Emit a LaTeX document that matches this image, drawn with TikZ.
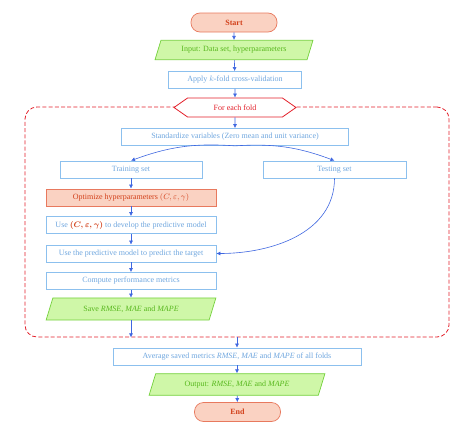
\documentclass[tikz,border=0pt]{standalone}
\usepackage{fontspec}
\setmainfont{Liberation Serif}
\usetikzlibrary{shapes.geometric,shapes.symbols,arrows.meta}
\definecolor{boxblue}{HTML}{8CC0EE}
\definecolor{txtblue}{HTML}{6FA6DE}
\definecolor{arrblue}{HTML}{3F67E0}
\definecolor{grnfill}{HTML}{CFF7A8}
\definecolor{grnline}{HTML}{74D13C}
\definecolor{grntxt}{HTML}{58B81E}
\definecolor{salfill}{HTML}{FAD2C2}
\definecolor{salline}{HTML}{E8795E}
\definecolor{saltxt}{HTML}{D2401A}
\definecolor{loopred}{HTML}{E3202A}
\tikzset{
  every node/.style={font=\fontsize{8}{9.6}\selectfont},
  terminal/.style={draw=salline,fill=salfill,text=saltxt,rounded corners=9pt,
    minimum width=86pt,minimum height=19pt,line width=0.7pt,font=\fontsize{8}{9.6}\selectfont\bfseries},
  io/.style={trapezium,trapezium left angle=73,trapezium right angle=107,draw=grnline,
    fill=grnfill,text=grntxt,minimum height=17pt,line width=0.7pt,inner xsep=0pt},
  proc/.style={draw=boxblue,text=txtblue,minimum height=17pt,line width=0.7pt},
  opt/.style={draw=salline,fill=salfill,text=saltxt,minimum height=17pt,line width=0.7pt},
  fold/.style={signal,signal to=west and east,signal pointer angle=70,draw=loopred,
    fill=white,text=loopred,minimum width=122pt,minimum height=19pt,line width=0.8pt},
  loopbox/.style={draw=loopred,dash pattern=on 4pt off 2.2pt,rounded corners=12pt,line width=0.8pt},
  flow/.style={-{Latex[length=4pt,width=4pt]},color=arrblue,line width=0.6pt}
}
\begin{document}
\begin{tikzpicture}[x=1pt,y=1pt]
    \useasboundingbox (0,0) rectangle (474,-431);
    \node[loopbox,minimum width=424pt,minimum height=230pt] (loop) at (237,-222) {};
    \node[terminal] (start) at (234,-22.5) {Start};
    \node[io,minimum width=158pt] (input) at (234,-50) {Input: Data set, hyperparameters};
    \node[proc,minimum width=133pt] (apply) at (235,-80) {Apply $k$-fold cross-validation};
    \node[fold] (each) at (235,-107.5) {For each fold};
    \node[proc,minimum width=227pt] (stand) at (235,-137) {Standardize variables (Zero mean and unit variance)};
    \node[proc,minimum width=142pt] (train) at (131,-169.5) {Training set};
    \node[proc,minimum width=143pt] (test) at (334.5,-169.5) {Testing set};
    \node[opt,minimum width=170pt] (optim) at (131,-197.5) {Optimize hyperparameters $(C,\varepsilon,\gamma)$};
    \node[proc,minimum width=170pt] (develop) at (131,-225) {Use {\color{saltxt}\boldmath$(C,\varepsilon,\gamma)$} to develop the predictive model};
    \node[proc,minimum width=170pt] (predict) at (131,-253.5) {Use the predictive model to predict the target};
    \node[proc,minimum width=170pt] (compute) at (131,-281) {Compute performance metrics};
    \node[io,minimum width=170pt] (save) at (131,-309) {Save \textit{RMSE}, \textit{MAE} and \textit{MAPE}};
    \node[proc,minimum width=248pt] (average) at (237,-356.5) {Average saved metrics \textit{RMSE}, \textit{MAE} and \textit{MAPE} of all folds};
    \node[io,minimum width=176pt] (output) at (237,-384.5) {Output: \textit{RMSE}, \textit{MAE} and \textit{MAPE}};
    \node[terminal] (end) at (237.5,-412) {End};
    \path [flow] (start) edge (input);
    \path [flow] (input) edge (apply);
    \path [flow] (apply) edge (each);
    \path [flow] (each) edge (stand);
    \path [flow] (stand.south) edge[bend right=12] (train.north);
    \path [flow] (stand.south) edge[bend left=12] (test.north);
    \path [flow] (train) edge (optim);
    \path [flow] (optim) edge (develop);
    \path [flow] (develop) edge (predict);
    \path [flow] (predict) edge (compute);
    \path [flow] (compute) edge (save);
    \path [flow] (test.south) edge[out=-90,in=0] (predict.east);
    \path [flow] (save.south) edge (save.south |- loop.south);
    \path [flow] (loop.south) edge (average);
    \path [flow] (average) edge (output);
    \path [flow] (output) edge (end);
\end{tikzpicture}
\end{document}
